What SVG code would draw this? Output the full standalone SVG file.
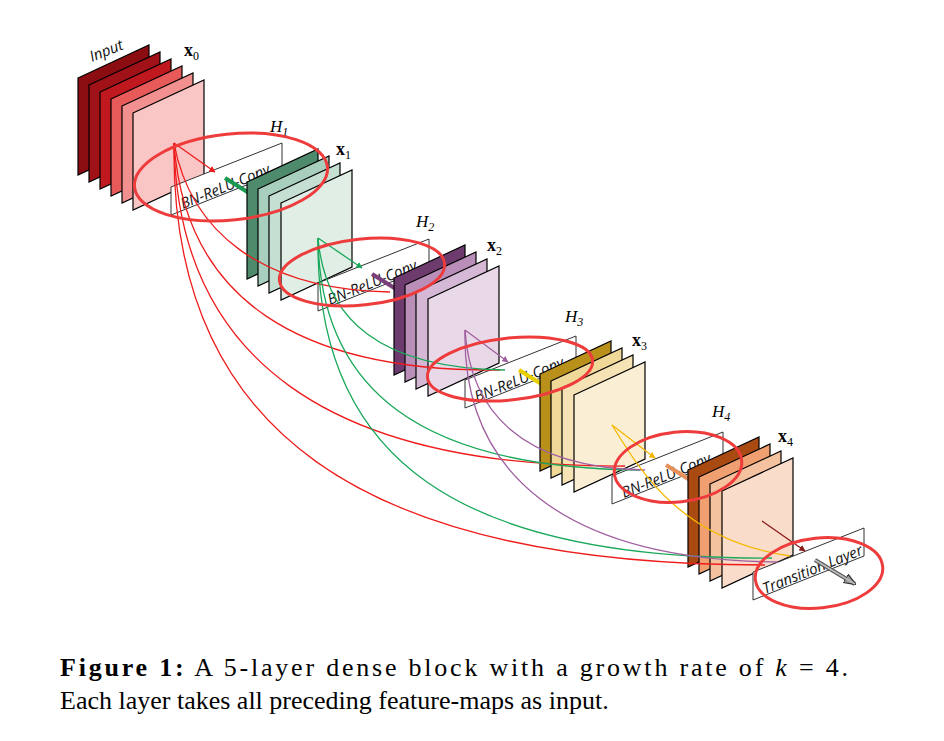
<svg xmlns="http://www.w3.org/2000/svg" width="944" height="741" viewBox="0 0 944 741">
<style>
.s{stroke:#000;stroke-width:1.2}
.box{fill:#fff;stroke:#333;stroke-width:1}
.bt{font-family:"Open Sans","DejaVu Sans",sans-serif;font-style:italic;font-size:15px;fill:#111}
.h{font-family:"Liberation Serif",serif;font-style:italic;font-size:17px}
.x{font-family:"Liberation Serif",serif;font-weight:bold;font-size:18px}
.sub{font-size:12px;font-weight:normal}
.el{fill:none;stroke:#ee3b3b;stroke-width:3}
.c{fill:none;stroke-width:1.3}
.cap{font-family:"Liberation Serif",serif;font-size:26px;fill:#000}
</style>
<defs>
<path id="sh" d="M0,0 L71,-33 L71,64 L0,97 Z"/>
<path id="bx" d="M0,0 L111,-44 L111,-16 L0,28 Z"/>
<marker id="ar" viewBox="0 0 10 10" refX="9" refY="5" markerWidth="5" markerHeight="5" orient="auto"><path d="M0,0 L10,5 L0,10 Z" fill="context-stroke"/></marker>
<marker id="ga" viewBox="0 0 10 10" refX="9" refY="5" markerWidth="3" markerHeight="3" orient="auto"><path d="M0,1 L10,5 L0,9 Z" fill="#999" stroke="#333"/></marker>
</defs>
<g id="x0stack">
<use href="#sh" x="78" y="78" class="s" fill="#8b0d12"/>
<use href="#sh" x="89" y="85" class="s" fill="#a01218"/>
<use href="#sh" x="100" y="92" class="s" fill="#c0181f"/>
<use href="#sh" x="111" y="99" class="s" fill="#e85a5a"/>
<use href="#sh" x="122" y="106" class="s" fill="#f29090"/>
<use href="#sh" x="133" y="113" class="s" fill="#f9c5c5"/>
<text x="92" y="62" class="bt" font-size="13" transform="rotate(-22 92 62)">Input</text>
<text x="184" y="56" class="x">x<tspan class="sub" dy="4">0</tspan></text>
</g>
<g id="H1"><use href="#bx" x="171" y="187" class="box"/><text x="183" y="209" class="bt" transform="rotate(-22 183 209)">BN-ReLU-Conv</text><text x="270" y="132" class="h">H<tspan class="sub" dy="4">1</tspan></text></g>
<line x1="225" y1="178" x2="249" y2="193" stroke="#1a9850" stroke-width="4"/>
<g id="x1stack">
<use href="#sh" x="247" y="182" class="s" fill="#4e8a6c"/>
<use href="#sh" x="258" y="189" class="s" fill="#a8cfbd"/>
<use href="#sh" x="269" y="196" class="s" fill="#c5e0d3"/>
<use href="#sh" x="281" y="203" class="s" fill="#e0eee6"/>
<text x="336" y="155" class="x">x<tspan class="sub" dy="4">1</tspan></text>
</g>
<g id="H2"><use href="#bx" x="318" y="283" class="box"/><text x="330" y="305" class="bt" transform="rotate(-22 330 305)">BN-ReLU-Conv</text><text x="416" y="227" class="h">H<tspan class="sub" dy="4">2</tspan></text></g>
<line x1="372" y1="274" x2="396" y2="289" stroke="#7b3f7b" stroke-width="4"/>
<g id="x2stack">
<use href="#sh" x="394" y="278" class="s" fill="#6e3b6e"/>
<use href="#sh" x="405" y="285" class="s" fill="#b98fb9"/>
<use href="#sh" x="416" y="292" class="s" fill="#d5b8d5"/>
<use href="#sh" x="428" y="299" class="s" fill="#e8d8e8"/>
<text x="487" y="251" class="x">x<tspan class="sub" dy="4">2</tspan></text>
</g>
<g id="H3"><use href="#bx" x="465" y="380" class="box"/><text x="477" y="402" class="bt" transform="rotate(-22 477 402)">BN-ReLU-Conv</text><text x="565" y="322" class="h">H<tspan class="sub" dy="4">3</tspan></text></g>
<line x1="519" y1="370" x2="543" y2="385" stroke="#e8d000" stroke-width="4"/>
<g id="x3stack">
<use href="#sh" x="540" y="374" class="s" fill="#b8901a"/>
<use href="#sh" x="551" y="381" class="s" fill="#f0d898"/>
<use href="#sh" x="562" y="388" class="s" fill="#f5e3b5"/>
<use href="#sh" x="574" y="395" class="s" fill="#faefd5"/>
<text x="632" y="346" class="x">x<tspan class="sub" dy="4">3</tspan></text>
</g>
<g id="H4"><use href="#bx" x="612" y="476" class="box"/><text x="624" y="498" class="bt" transform="rotate(-22 624 498)">BN-ReLU-Conv</text><text x="712" y="417" class="h">H<tspan class="sub" dy="4">4</tspan></text></g>
<line x1="666" y1="465" x2="690" y2="480" stroke="#e8905a" stroke-width="4"/>
<g id="x4stack">
<use href="#sh" x="688" y="470" class="s" fill="#a84a12"/>
<use href="#sh" x="699" y="477" class="s" fill="#f0a070"/>
<use href="#sh" x="710" y="484" class="s" fill="#f5c2a0"/>
<use href="#sh" x="722" y="491" class="s" fill="#fadcca"/>
<text x="778" y="442" class="x">x<tspan class="sub" dy="4">4</tspan></text>
</g>
<g id="transition"><use href="#bx" x="753" y="572" class="box"/><text x="765" y="594" class="bt" transform="rotate(-22 765 594)">Transition Layer</text></g>
<g id="connectors">
<path class="c" stroke="#ee1c1c" marker-end="url(#ar)" d="M174,143 L215,172"/>
<path class="c" stroke="#ee1c1c" d="M174,143 C190,230 260,290 390,292"/>
<path class="c" stroke="#ee1c1c" d="M174,143 C185,300 300,372 500,370"/>
<path class="c" stroke="#ee1c1c" d="M174,143 C178,360 330,468 625,466"/>
<path class="c" stroke="#ee1c1c" d="M174,143 C170,430 360,565 765,565"/>
<path class="c" stroke="#1aa85a" marker-end="url(#ar)" d="M318,238 L362,268"/>
<path class="c" stroke="#1aa85a" d="M318,238 C325,320 380,368 505,370"/>
<path class="c" stroke="#1aa85a" d="M318,238 C320,390 420,468 640,470"/>
<path class="c" stroke="#1aa85a" d="M318,238 C315,460 460,560 772,558"/>
<path class="c" stroke="#a060a0" marker-end="url(#ar)" d="M465,330 L508,362"/>
<path class="c" stroke="#a060a0" d="M465,330 C470,410 520,468 645,470"/>
<path class="c" stroke="#a060a0" d="M465,330 C462,470 560,560 778,562"/>
<path class="c" stroke="#f5b800" marker-end="url(#ar)" d="M612,425 L655,458"/>
<path class="c" stroke="#f5b800" d="M612,425 C640,470 680,540 790,556"/>
<path class="c" stroke="#8b1a1a" marker-end="url(#ar)" d="M762,521 L805,551"/>
<line x1="815" y1="560" x2="855" y2="584" stroke="#555" stroke-width="4" marker-end="url(#ga)"/>
<line x1="815" y1="560" x2="855" y2="584" stroke="#bbb" stroke-width="2"/>
</g>
<g id="highlights">
<ellipse class="el" cx="231" cy="177" rx="97" ry="43" transform="rotate(-6 231 177)"/>
<ellipse class="el" cx="362" cy="272" rx="83" ry="33" transform="rotate(-6 362 272)"/>
<ellipse class="el" cx="510" cy="369" rx="83" ry="31" transform="rotate(-6 510 369)"/>
<ellipse class="el" cx="678" cy="467" rx="64" ry="35" transform="rotate(-6 678 467)"/>
<ellipse class="el" cx="819" cy="573" rx="64" ry="35" transform="rotate(-6 819 573)"/>
</g>
<g id="caption">
<text x="60" y="676" class="cap" textLength="788" lengthAdjust="spacing"><tspan font-weight="bold">Figure 1:</tspan> A 5-layer dense block with a growth rate of <tspan font-style="italic">k</tspan> = 4.</text>
<text x="60" y="709" class="cap">Each layer takes all preceding feature-maps as input.</text>
</g>
</svg>
